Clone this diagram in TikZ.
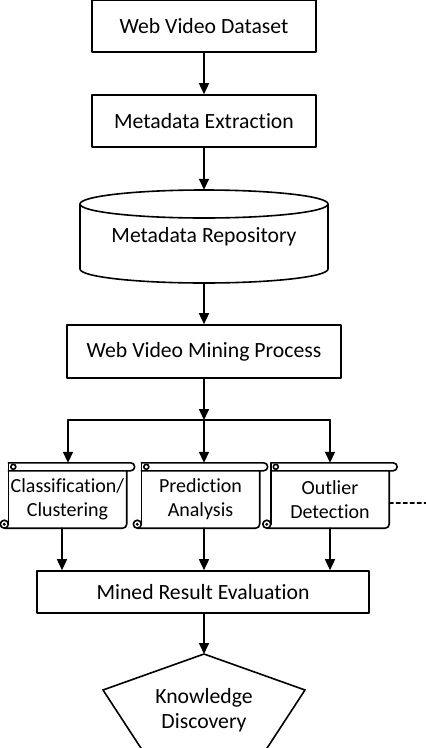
\documentclass[tikz,border=0pt]{standalone}
\usepackage{fontspec}
\setmainfont[Ligatures=NoCommon]{Carlito}
\usetikzlibrary{arrows.meta,calc,positioning}
\tikzset{
  every picture/.append style={line cap=round,line join=round},
  wv line/.style={line width=1.6pt},
  wv text/.style={align=center,inner sep=0pt,font=\fontsize{21.7}{25}\selectfont},
  wv scroll/.style={align=center,inner sep=0pt,font=\fontsize{20}{24}\selectfont,
    minimum width=118,minimum height=57},
  wv box/.style={wv text,wv line,draw,rectangle},
  wv flow/.style={wv line,-{Triangle[length=11pt,width=10pt]}},
  wv dashed/.style={line width=1.2pt,dash pattern=on 4pt off 3pt}
}

\begin{document}
\begin{tikzpicture}[x=1pt,y=-1pt]
  \useasboundingbox (0,0) rectangle (426,748);
  \node[wv box,minimum width=224,minimum height=52] (data) at (204,26) {Web Video Dataset};
  \node[wv box,minimum width=224,minimum height=52] (extract) at (204,121) {Metadata Extraction};
  \node[wv text,minimum width=248,minimum height=93] (repo) at (204,236.5) {Metadata Repository};
  \draw[wv line] (204,204) ellipse [x radius=124pt,y radius=14pt];
  \draw[wv line] (80,204) -- (80,269) arc[start angle=180,end angle=360,x radius=124pt,y radius=14pt] -- (328,204);
  \node[wv box,minimum width=274,minimum height=53] (mining) at (204,351.5) {Web Video Mining Process};
  \coordinate (split) at (204,420);
  \coordinate (left) at (68,420);
  \coordinate (right) at (330,420);
  \node[wv scroll] (cls) at (67.5,499.5) {Classification/\\Clustering};
  \node[wv scroll] (pred) at (200.5,499.5) {Prediction\\Analysis};
  \node[wv scroll] (outl) at (330,499.5) {Outlier\\Detection};
  \foreach \s in {cls,pred,outl} {
    \draw[wv line,rounded corners=4pt] ([yshift=8pt]\s.north west) -- ([xshift=8pt,yshift=8pt]\s.north east)
      -- ([xshift=8pt]\s.north east) -- (\s.north west);
    \draw[wv line,rounded corners=4pt] (\s.north east) -- (\s.south east)
      -- ([xshift=-4pt]\s.south west);
    \draw[wv line] ([yshift=8pt]\s.north west) -- ([yshift=4pt]\s.south west);
    \draw[wv line] ([xshift=-4pt,yshift=4pt]\s.south west) circle (4pt);
    \fill ([xshift=-4pt,yshift=4pt]\s.south west) circle (1.6pt);
    \draw[wv line] ([xshift=5pt,yshift=4pt]\s.north west) circle (2.5pt);
  }
  \coordinate (more) at (426,503);
  \node[wv box,minimum width=332,minimum height=42] (mined) at (203,592) {Mined Result Evaluation};
  \node[wv text] (know) at (204,710) {Knowledge\\Discovery};
  \coordinate (kd top) at (204,654);
  \coordinate (kd right) at (305,690);
  \coordinate (kd br) at (264.5,752);
  \coordinate (kd bl) at (143.5,752);
  \coordinate (kd left) at (103,690);
  \draw[wv line] (kd top) -- (kd right) -- (kd br) -- (kd bl) -- (kd left) -- cycle;

  \draw[wv flow] (data) -- (extract);
  \draw[wv flow] (extract) -- (repo);
  \draw[wv flow] (repo) -- (mining);
  \draw[wv flow] (mining) -- (split);
  \draw[wv line] (left) -- (right);
  \draw[wv flow] (left) -- ($(left |- cls.north)+(0,-8)$);
  \draw[wv flow] (split) -- ($(split |- pred.north)+(0,-8)$);
  \draw[wv flow] (right) -- ($(right |- outl.north)+(0,-8)$);
  \draw[wv dashed] (outl.east |- more) -- (more);
  \draw[wv flow] ([xshift=-5.5pt]cls.south) -- ([xshift=-5.5pt]cls.south |- mined.north);
  \draw[wv flow] (split |- pred.south) -- (split |- mined.north);
  \draw[wv flow] (right |- outl.south) -- (right |- mined.north);
  \draw[wv flow] (mined.south -| kd top) -- (kd top);
\end{tikzpicture}
\end{document}
